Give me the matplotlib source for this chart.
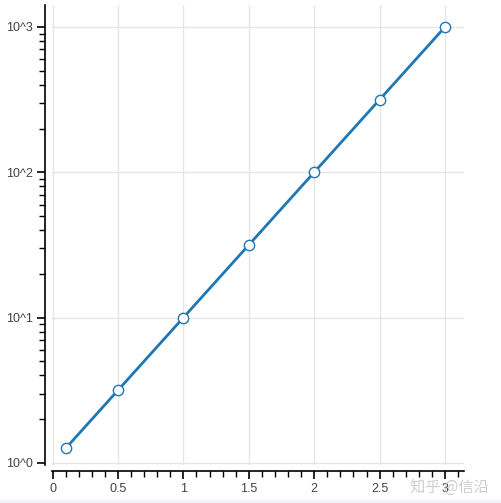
import numpy as np
import matplotlib.pyplot as plt
from matplotlib.ticker import FixedLocator, LogLocator, NullFormatter

plt.rcParams['font.family'] = ['Liberation Sans', 'DejaVu Sans']

# data: y = 10 ** x
x_vals = [0.1, 0.5, 1.0, 1.5, 2.0, 2.5, 3.0]
y_vals = [1.259, 3.162, 10.0, 31.62, 100.0, 316.2, 1000.0]
x_ticks = [0, 0.5, 1, 1.5, 2, 2.5, 3]
x_tick_labels = ['0', '0.5', '1', '1.5', '2', '2.5', '3']
y_ticks = [1, 10, 100, 1000]
y_tick_labels = ['10^0', '10^1', '10^2', '10^3']

W, H = 501, 503
fig = plt.figure(figsize=(W / 100, H / 100), dpi=100)
# light page band at the very bottom
fig.patches.append(plt.Rectangle((0, 0), 1, 3 / H, transform=fig.transFigure,
                                 color='#eef4fa', zorder=0))

# frame (grid area) in pixels: x 52..464, y 5..465
ax = fig.add_axes([52 / W, (H - 465) / H, (464 - 52) / W, (465 - 5) / H])
ax.set_yscale('log')

ax.plot(x_vals, y_vals, color='#1f77b4', lw=2, zorder=3)
ax.scatter(x_vals, y_vals, s=55, facecolor='white', edgecolor='#1f77b4',
           linewidth=1, zorder=4)

ax.set_xlim(-0.004, 3.145)
ax.set_ylim(10 ** -0.014, 10 ** 3.151)

ax.xaxis.set_major_locator(FixedLocator(x_ticks))
ax.set_xticklabels(x_tick_labels)
ax.xaxis.set_minor_locator(FixedLocator(np.arange(0.0, 3.15, 0.1)))
ax.yaxis.set_major_locator(FixedLocator(y_ticks))
ax.set_yticklabels(y_tick_labels)
ax.yaxis.set_minor_locator(LogLocator(base=10, subs=np.arange(2, 10)))
ax.yaxis.set_minor_formatter(NullFormatter())

ax.grid(True, which='major', color='#e6e6e6', lw=1)
ax.set_axisbelow(True)

for s in ['top', 'right']:
    ax.spines[s].set_visible(False)
ax.spines['left'].set_position(('outward', 5))
ax.spines['bottom'].set_position(('outward', 4))
for s in ['left', 'bottom']:
    ax.spines[s].set_color('black')
    ax.spines[s].set_linewidth(1.2)

ax.tick_params(which='major', length=6, width=1.2, color='black',
               labelsize=9, labelcolor='#444444', pad=3)
ax.tick_params(which='minor', length=4, width=1, color='black')

# watermark
fig.text(0.975, 0.032, '知乎 @信沿', ha='right', va='center', fontsize=11,
         color='#c8c8c8', family=['Noto Sans CJK SC', 'DejaVu Sans'], alpha=0.9)

fig.savefig('out.png', dpi=100)
